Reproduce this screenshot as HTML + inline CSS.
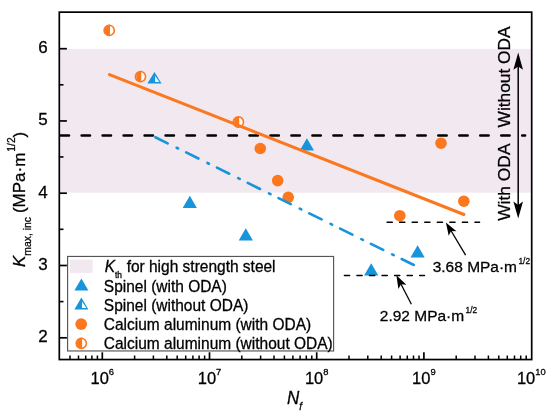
<!DOCTYPE html>
<html><head><meta charset="utf-8">
<style>
html,body{margin:0;padding:0;background:#fff;}
body{width:550px;height:419px;overflow:hidden;}
svg{display:block;will-change:transform;font-family:"Liberation Sans", sans-serif;}
svg text{stroke:#000;stroke-width:0.28px;}
</style></head><body>
<svg width="550" height="419" viewBox="0 0 550 419">
<!-- band -->
<rect x="59.2" y="48.9" width="472.1" height="143.8" fill="#F2E8F0"/>

<!-- black dashed line -->
<line x1="60.65" y1="135.5" x2="525.1" y2="135.5" stroke="#000" stroke-width="2.5" stroke-linecap="round" stroke-dasharray="8.4 12.58"/>

<!-- blue triangles (filled) -->
<g fill="#1894DA">
<path d="M189.80 195.75 L196.90 208.10 L182.70 208.10 Z"/>
<path d="M245.80 228.15 L252.90 240.50 L238.70 240.50 Z"/>
<path d="M306.90 138.25 L314.00 150.60 L299.80 150.60 Z"/>
<path d="M371.20 263.25 L378.30 275.60 L364.10 275.60 Z"/>
<path d="M417.60 245.15 L424.70 257.50 L410.50 257.50 Z"/>
</g>

<!-- orange circles -->
<g fill="#FC781F">
<circle cx="260.3" cy="148.5" r="5.8"/>
<circle cx="277.7" cy="180.6" r="5.8"/>
<circle cx="288.2" cy="197.3" r="5.8"/>
<circle cx="399.8" cy="215.7" r="5.8"/>
<circle cx="441" cy="143.2" r="5.8"/>
<circle cx="463.8" cy="201.2" r="5.8"/>
</g>

<!-- half circles -->
<g>
<g transform="translate(109.2 30.4)"><circle r="5.1" fill="#fff" stroke="#FC781F" stroke-width="1.6"/><path d="M0.8 -5.85 A5.9 5.9 0 0 0 0.8 5.85 Z" fill="#FC781F"/></g>
<g transform="translate(140.5 76.6)"><circle r="5.1" fill="#fff" stroke="#FC781F" stroke-width="1.6"/><path d="M0.8 -5.85 A5.9 5.9 0 0 0 0.8 5.85 Z" fill="#FC781F"/></g>
<g transform="translate(238.4 122)"><circle r="5.1" fill="#fff" stroke="#FC781F" stroke-width="1.6"/><path d="M0.8 -5.85 A5.9 5.9 0 0 0 0.8 5.85 Z" fill="#FC781F"/></g>
</g>
<!-- half triangle -->
<g transform="translate(154.45 72.1)">
<path d="M0 0 L7.1 11.5 L-7.1 11.5 Z" fill="#1894DA"/>
<path d="M0.65 3.9 L4.9 9.95 L0.65 9.95 Z" fill="#fff"/>
</g>

<!-- orange line -->
<line x1="109.5" y1="74.6" x2="463.9" y2="214.5" stroke="#FC781F" stroke-width="3.1" stroke-linecap="round"/>
<!-- blue dash-dot line -->
<line x1="155.1" y1="137.1" x2="413.8" y2="265" stroke="#1894DA" stroke-width="2.6" stroke-linecap="round" stroke-dasharray="13.7 10 1.7 8.95" stroke-dashoffset="-0.3"/>

<!-- annotation dashed lines -->
<line x1="387.05" y1="222.2" x2="479.6" y2="222.2" stroke="#000" stroke-width="1.35" stroke-linecap="round" stroke-dasharray="5.3 7.25"/>
<line x1="344.35" y1="275.5" x2="424.5" y2="275.5" stroke="#000" stroke-width="1.35" stroke-linecap="round" stroke-dasharray="5.3 7.25"/>

<!-- arrows -->
<g stroke="#000" stroke-width="1.3" fill="none">
<line x1="465.6" y1="255.1" x2="450" y2="229"/>
<line x1="411.4" y1="304.2" x2="399.5" y2="281.3"/>
</g>
<g fill="#000">
<path d="M0 0 L-4.5 13 L0 10 L4.5 13 Z" transform="translate(445.9 222.4) rotate(-31)"/>
<path d="M0 0 L-4.5 13 L0 10 L4.5 13 Z" transform="translate(396.4 275.3) rotate(-27.4)"/>
</g>

<!-- annotation text -->
<text transform="translate(432.7 272) scale(1 0.98)" font-size="15.5" fill="#000">3.68 MPa·m<tspan font-size="8.4" dy="-8.6" dx="1.4">1/2</tspan></text>
<text transform="translate(379.8 321.3) scale(1 0.98)" font-size="15.5" fill="#000">2.92 MPa·m<tspan font-size="8.4" dy="-8.6" dx="1.4">1/2</tspan></text>

<!-- right vertical double arrow -->
<line x1="518.2" y1="60" x2="518.2" y2="210" stroke="#000" stroke-width="1.5"/>
<path d="M518.2 52.6 L513.4 69.8 L518.2 66.5 L523 69.8 Z" fill="#000"/>
<path d="M518.2 218.6 L513.4 201.6 L518.2 204.9 L523 201.6 Z" fill="#000"/>
<text transform="translate(510.3 220.8) rotate(-90) scale(1 1.0)" font-size="17.4" fill="#000">With ODA</text>
<text transform="translate(510.3 127.4) rotate(-90) scale(1 1.0)" font-size="17.3" fill="#000">Without ODA</text>

<!-- legend -->
<rect x="67.6" y="256.45" width="266" height="94.5" fill="#fff" stroke="#555" stroke-width="1.15"/>
<rect x="70" y="259.6" width="22.7" height="13.3" fill="#F2E8F0"/>
<g font-size="15.5" fill="#000">
<text transform="translate(104.7 271.8) scale(1 1.01)" ><tspan font-style="italic">K</tspan><tspan font-size="8.4" dy="6.3">th</tspan><tspan dy="-6.3" dx="4.6">for high strength steel</tspan></text>
<text transform="translate(103.8 291.8) scale(1 1.01)" >Spinel (with ODA)</text>
<text transform="translate(103.8 310.8) scale(1 1.01)" >Spinel (without ODA)</text>
<text transform="translate(103.8 329.9) scale(1 1.01)" >Calcium aluminum (with ODA)</text>
<text transform="translate(103.8 348.7) scale(1 1.01)" >Calcium aluminum (without ODA)</text>
</g>
<path d="M81.4 278.6 L88.4 290.6 L74.4 290.6 Z" fill="#1894DA"/>
<g transform="translate(81.4 297.5)">
<path d="M0 0 L7 12 L-7 12 Z" fill="#1894DA"/>
<path d="M0.6 4.1 L5.0 10.4 L0.6 10.4 Z" fill="#fff"/>
</g>
<circle cx="81.2" cy="324.1" r="5.9" fill="#FC781F"/>
<g transform="translate(81.3 343.3)"><circle r="5.1" fill="#fff" stroke="#FC781F" stroke-width="1.6"/><path d="M0.8 -5.85 A5.9 5.9 0 0 0 0.8 5.85 Z" fill="#FC781F"/></g>

<!-- axes frame -->
<rect x="59.3" y="12.15" width="472.4" height="347.4" fill="none" stroke="#000" stroke-width="1.7"/>

<!-- y ticks -->
<g stroke="#000" stroke-width="1.7">
<line x1="59.2" y1="48.7" x2="66.9" y2="48.7"/>
<line x1="59.2" y1="120.95" x2="66.9" y2="120.95"/>
<line x1="59.2" y1="193.2" x2="66.9" y2="193.2"/>
<line x1="59.2" y1="265.5" x2="66.9" y2="265.5"/>
<line x1="59.2" y1="337.8" x2="66.9" y2="337.8"/>
</g>
<g stroke="#000" stroke-width="1.6">
<line x1="59.2" y1="84.8" x2="63.5" y2="84.8"/>
<line x1="59.2" y1="156.95" x2="63.5" y2="156.95"/>
<line x1="59.2" y1="229.3" x2="63.5" y2="229.3"/>
<line x1="59.2" y1="301.6" x2="63.5" y2="301.6"/>
</g>
<!-- x ticks -->
<g stroke="#000">
<line x1="70.0" y1="359.2" x2="70.0" y2="355.5" stroke-width="1.5"/>
<line x1="78.5" y1="359.2" x2="78.5" y2="355.5" stroke-width="1.5"/>
<line x1="85.7" y1="359.2" x2="85.7" y2="355.5" stroke-width="1.5"/>
<line x1="91.9" y1="359.2" x2="91.9" y2="355.5" stroke-width="1.5"/>
<line x1="97.4" y1="359.2" x2="97.4" y2="355.5" stroke-width="1.5"/>
<line x1="102.3" y1="359.2" x2="102.3" y2="352.3" stroke-width="1.7"/>
<line x1="134.6" y1="359.2" x2="134.6" y2="355.5" stroke-width="1.5"/>
<line x1="153.4" y1="359.2" x2="153.4" y2="355.5" stroke-width="1.5"/>
<line x1="166.8" y1="359.2" x2="166.8" y2="355.5" stroke-width="1.5"/>
<line x1="177.2" y1="359.2" x2="177.2" y2="355.5" stroke-width="1.5"/>
<line x1="185.7" y1="359.2" x2="185.7" y2="355.5" stroke-width="1.5"/>
<line x1="192.9" y1="359.2" x2="192.9" y2="355.5" stroke-width="1.5"/>
<line x1="199.1" y1="359.2" x2="199.1" y2="355.5" stroke-width="1.5"/>
<line x1="204.6" y1="359.2" x2="204.6" y2="355.5" stroke-width="1.5"/>
<line x1="209.5" y1="359.2" x2="209.5" y2="352.3" stroke-width="1.7"/>
<line x1="241.8" y1="359.2" x2="241.8" y2="355.5" stroke-width="1.5"/>
<line x1="260.6" y1="359.2" x2="260.6" y2="355.5" stroke-width="1.5"/>
<line x1="274.0" y1="359.2" x2="274.0" y2="355.5" stroke-width="1.5"/>
<line x1="284.4" y1="359.2" x2="284.4" y2="355.5" stroke-width="1.5"/>
<line x1="292.9" y1="359.2" x2="292.9" y2="355.5" stroke-width="1.5"/>
<line x1="300.1" y1="359.2" x2="300.1" y2="355.5" stroke-width="1.5"/>
<line x1="306.3" y1="359.2" x2="306.3" y2="355.5" stroke-width="1.5"/>
<line x1="311.8" y1="359.2" x2="311.8" y2="355.5" stroke-width="1.5"/>
<line x1="316.7" y1="359.2" x2="316.7" y2="352.3" stroke-width="1.7"/>
<line x1="349.0" y1="359.2" x2="349.0" y2="355.5" stroke-width="1.5"/>
<line x1="367.8" y1="359.2" x2="367.8" y2="355.5" stroke-width="1.5"/>
<line x1="381.2" y1="359.2" x2="381.2" y2="355.5" stroke-width="1.5"/>
<line x1="391.6" y1="359.2" x2="391.6" y2="355.5" stroke-width="1.5"/>
<line x1="400.1" y1="359.2" x2="400.1" y2="355.5" stroke-width="1.5"/>
<line x1="407.3" y1="359.2" x2="407.3" y2="355.5" stroke-width="1.5"/>
<line x1="413.5" y1="359.2" x2="413.5" y2="355.5" stroke-width="1.5"/>
<line x1="419.0" y1="359.2" x2="419.0" y2="355.5" stroke-width="1.5"/>
<line x1="423.9" y1="359.2" x2="423.9" y2="352.3" stroke-width="1.7"/>
<line x1="456.2" y1="359.2" x2="456.2" y2="355.5" stroke-width="1.5"/>
<line x1="475.0" y1="359.2" x2="475.0" y2="355.5" stroke-width="1.5"/>
<line x1="488.4" y1="359.2" x2="488.4" y2="355.5" stroke-width="1.5"/>
<line x1="498.8" y1="359.2" x2="498.8" y2="355.5" stroke-width="1.5"/>
<line x1="507.3" y1="359.2" x2="507.3" y2="355.5" stroke-width="1.5"/>
<line x1="514.5" y1="359.2" x2="514.5" y2="355.5" stroke-width="1.5"/>
<line x1="520.7" y1="359.2" x2="520.7" y2="355.5" stroke-width="1.5"/>
<line x1="526.2" y1="359.2" x2="526.2" y2="355.5" stroke-width="1.5"/>
</g>

<!-- y tick labels -->
<g font-size="17" fill="#000" text-anchor="end">
<text transform="translate(47.6 52.9) scale(1 0.98)" >6</text>
<text transform="translate(47.6 125.3) scale(1 0.98)" >5</text>
<text transform="translate(47.6 197.8) scale(1 0.98)" >4</text>
<text transform="translate(47.6 270) scale(1 0.98)" >3</text>
<text transform="translate(47.6 342.3) scale(1 0.98)" >2</text>
</g>
<!-- x tick labels -->
<g font-size="16.5" fill="#000" text-anchor="middle">
<text transform="translate(102.3 384.2) scale(1 1.05)" >10<tspan font-size="9.4" dy="-8.9">6</tspan></text>
<text transform="translate(209.5 384.2) scale(1 1.05)" >10<tspan font-size="9.4" dy="-8.9">7</tspan></text>
<text transform="translate(316.7 384.2) scale(1 1.05)" >10<tspan font-size="9.4" dy="-8.9">8</tspan></text>
<text transform="translate(423.9 384.2) scale(1 1.05)" >10<tspan font-size="9.4" dy="-8.9">9</tspan></text>
<text transform="translate(531.3 384.2) scale(1 1.05)" >10<tspan font-size="9.4" dy="-8.9">10</tspan></text>
</g>
<!-- axis labels -->
<text transform="translate(287 403.5) scale(1 1.05)" font-size="17" fill="#000"><tspan font-style="italic">N</tspan><tspan font-size="10" font-style="italic" dy="6">f</tspan></text>
<text transform="translate(24.6 267) rotate(-90) scale(1 1.0)" font-size="17" fill="#000"><tspan font-style="italic">K</tspan><tspan font-size="10.4" dy="6.4">max, inc</tspan><tspan dy="-6.4" dx="-0.8"> (MPa·m</tspan><tspan font-size="10.3" dy="-10" dx="0.9">1/2</tspan><tspan dy="10">)</tspan></text>
</svg>
</body></html>
